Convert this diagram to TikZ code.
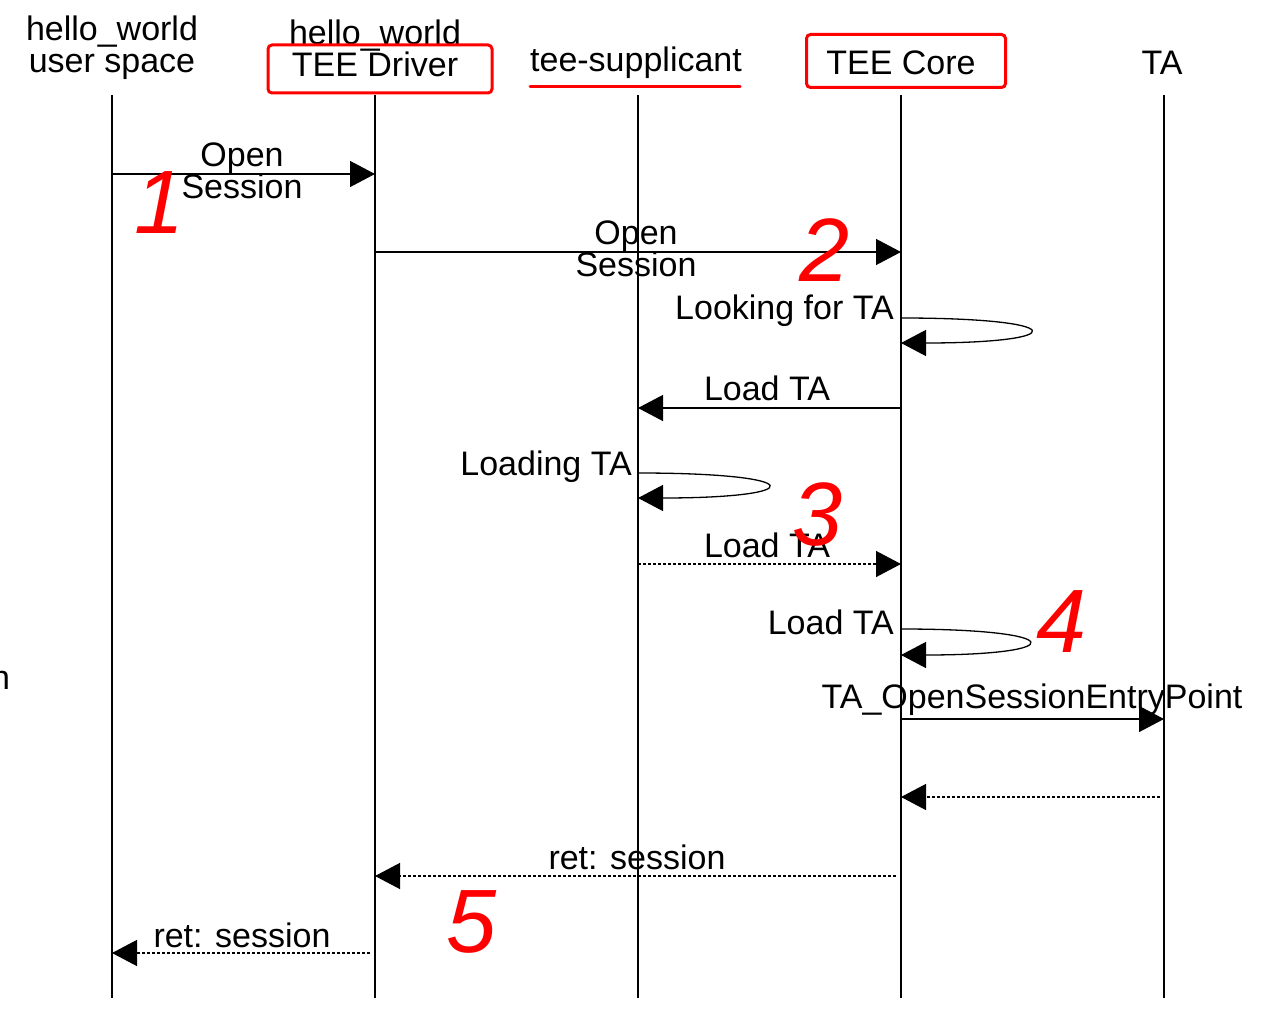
\documentclass[tikz,border=0pt]{standalone}
\usepackage{fontspec}
\setmainfont{Liberation Sans}
\usetikzlibrary{arrows.meta}
\begin{document}
\begin{tikzpicture}[x=1pt,y=-1pt,
  lbl/.style={font=\fontsize{34}{32}\selectfont,align=center,inner sep=0pt},
  msg/.style={line width=1.3pt,-{Triangle[length=25pt,width=26pt]}},
  ret/.style={msg,dash pattern=on 3pt off 2pt},
  life/.style={line width=1.3pt},
  redbox/.style={draw=red,line width=3pt,rounded corners=4pt},
  hand/.style={text=red,font=\fontsize{90}{90}\selectfont\itshape,inner sep=0pt}]
\useasboundingbox (0,0) rectangle (1271,1011);
\fill[white] (0,0) rectangle (1271,1011);
% headers
\node[lbl] (h1) at (112,48) {hello\_world\\user space};
\node[lbl] (h2) at (375,48) {hello\_world\\TEE Driver};
\node[lbl] (h3) at (636,63) {tee-supplicant};
\node[lbl] (h4) at (901,63) {TEE Core};
\node[lbl] (h5) at (1162,63) {TA};
% lifelines
\foreach \i/\x in {1/112,2/375,3/638,4/901,5/1164}{
  \coordinate (t\i) at (\x,95); \coordinate (b\i) at (\x,998);
  \draw[life] (t\i) -- (b\i);}
% red annotations
\node[redbox,minimum width=224pt,minimum height=48pt] (rb1) at (380,69) {};
\node[redbox,minimum width=199pt,minimum height=53pt] (rb2) at (906,61) {};
\coordinate (u1) at (530,87); \coordinate (u2) at (740,87);
\draw[red,line width=3pt,line cap=round] (u1) -- (u2);
% messages
\coordinate (a1) at (112,174); \coordinate (a2) at (375,174);
\draw[msg] (a1) -- (a2);
\node[lbl] (l1) at (242,171) {Open\\Session};
\coordinate (c1) at (375,252); \coordinate (c2) at (901,252);
\draw[msg] (c1) -- (c2);
\node[lbl] (l2) at (636,249) {Open\\Session};
\coordinate (s1) at (901,318); \coordinate (s2) at (901,343);
\draw[msg] (s1) .. controls (1072,318) and (1072,343) .. (s2);
\node[lbl,anchor=east] (l3) at (894,311) {Looking for TA};
\coordinate (d1) at (901,408); \coordinate (d2) at (638,408);
\draw[msg] (d1) -- (d2);
\node[lbl] (l4) at (767,388) {Load TA};
\coordinate (e1) at (638,473); \coordinate (e2) at (638,498);
\draw[msg] (e1) .. controls (810,473) and (810,498) .. (e2);
\node[lbl,anchor=east] (l5) at (632,467) {Loading TA};
\coordinate (f1) at (638,564); \coordinate (f2) at (901,564);
\draw[ret] (f1) -- (f2);
\node[lbl] (l6) at (767,545) {Load TA};
\coordinate (g1) at (901,629); \coordinate (g2) at (901,655);
\draw[msg] (g1) .. controls (1070,629) and (1070,655) .. (g2);
\node[lbl,anchor=east] (l7) at (894,622) {Load TA};
\coordinate (k1) at (901,719); \coordinate (k2) at (1164,719);
\draw[msg] (k1) -- (k2);
\node[lbl] (l8) at (1032,700) {TA\_OpenSessionEntryPoint};
\coordinate (m1) at (1160,797); \coordinate (m2) at (901,797);
\draw[ret] (m1) -- (m2);
\coordinate (n1) at (896,876); \coordinate (n2) at (375,876);
\draw[ret] (n1) -- (n2);
\node[lbl] (l10) at (637,857) {ret: session};
\coordinate (o1) at (370,953); \coordinate (o2) at (112,953);
\draw[ret] (o1) -- (o2);
\node[lbl] (l11) at (242,935) {ret: session};
% handwritten numbers
\node[hand] (n1h) at (160,203) {1};
\node[hand] (n2h) at (825,250) {2};
\node[hand] (n3h) at (818,515) {3};
\node[hand] (n4h) at (1062,622) {4};
\node[hand] (n5h) at (472,922) {5};
\node[lbl,anchor=west] (nn) at (-9,680) {n};
\end{tikzpicture}
\end{document}
